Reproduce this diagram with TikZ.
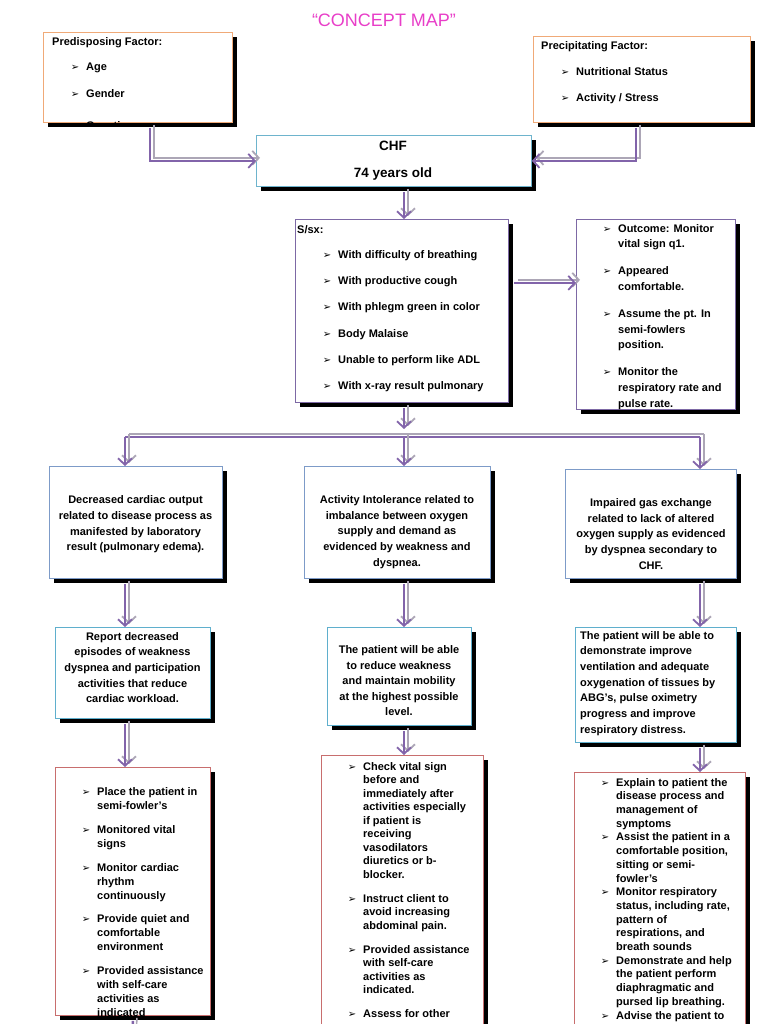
\documentclass[tikz,border=0pt]{standalone}
\usepackage{fontspec}
\setmainfont{Liberation Sans}
\newfontfamily\symfont{DejaVu Sans}
\usetikzlibrary{arrows.meta,shadows}

\definecolor{titlepink}{RGB}{232,62,200}
\definecolor{factorline}{RGB}{240,170,120}
\definecolor{chfline}{RGB}{110,180,205}
\definecolor{signline}{RGB}{125,105,165}
\definecolor{dxline}{RGB}{125,155,200}
\definecolor{goalline}{RGB}{95,175,205}
\definecolor{actline}{RGB}{200,110,110}
\definecolor{flowcol}{RGB}{130,100,170}
\definecolor{flowshadow}{RGB}{172,166,182}

\tikzstyle{box} = [draw, fill=white, anchor=north west, inner sep=0pt, line width=0.8pt,
  drop shadow={shadow xshift=4.5pt, shadow yshift=-4.5pt, fill=black, opacity=1}]
\tikzstyle{txt} = [inner sep=0pt, anchor=north west, align=left]
\tikzstyle{ctxt} = [inner sep=0pt, align=center]
\tikzstyle{flow} = [draw=flowcol, line width=2.5pt, -{Straight Barb[length=6.5pt, width=14pt, line width=1.8pt]}]
\tikzstyle{flowbar} = [draw=flowcol, line width=2.5pt]

\newcommand{\bodyfont}[1]{\bfseries\fontsize{11}{#1}\selectfont}
\newcommand{\bul}{\llap{{\symfont\fontsize{10}{10}\selectfont ➢}\hspace{7pt}}}
\newcommand{\flowto}[2][flow]{%
  \draw[#1, draw=flowshadow, line width=1.6pt, transform canvas={shift={(4pt,3pt)}}] #2;
  \draw[#1] #2;}

\begin{document}
\begin{tikzpicture}[x=1pt, y=-1pt]
        \useasboundingbox (0,0) rectangle (768,1024);

        % Title
        \node[font=\fontsize{18}{18}\selectfont, text=titlepink, inner sep=0pt] (title) at (384,20) {“CONCEPT MAP”};

        % Factors
        \node[box, draw=factorline, minimum width=189pt, minimum height=90pt] (pred) at (43,32) {};
        \node[txt, font=\bodyfont{26}] (predHead) at (52,37) {Predisposing Factor:};
        \begin{scope}
          \clip (pred.north west) rectangle (pred.south east);
          \node[txt, font=\bodyfont{26.5}] (predList) at (86,63) {\bul Age\\ \bul Gender\\[5.5pt] \bul Genetics};
        \end{scope}

        \node[box, draw=factorline, minimum width=217pt, minimum height=86pt] (prec) at (533,36) {};
        \node[txt, font=\bodyfont{26}] (precHead) at (541,41) {Precipitating Factor:};
        \node[txt, font=\bodyfont{26}] (precList) at (576,67) {\bul Nutritional Status\\ \bul Activity / Stress};

        \node[box, draw=chfline, minimum width=275pt, minimum height=51pt] (chf) at (256,135) {};
        \node[ctxt, font=\bfseries\fontsize{13.5}{27}\selectfont] (chfText) at (393,161) {CHF\\ 74 years old};

        % Signs and outcome
        \node[box, draw=signline, minimum width=213pt, minimum height=183pt] (sx) at (295,219) {};
        \node[txt, font=\bodyfont{26}] (sxHead) at (297,225) {S/sx:};
        \node[txt, font=\bodyfont{26.3}] (sxList) at (338,250)
          {\bul With difficulty of breathing\\ \bul With productive cough\\ \bul With phlegm green in color\\
           \bul Body Malaise\\ \bul Unable to perform like ADL\\ \bul With x-ray result pulmonary};

        \node[box, draw=signline, minimum width=159pt, minimum height=190pt] (outc) at (576,219) {};
        \begin{scope}
          \clip (outc.north west) rectangle (outc.south east);
          \node[txt, font=\bodyfont{15.6}] (outcList) at (618,224)
            {\bul Outcome: Monitor\\ vital sign q1.\\[11.5pt] \bul Appeared\\ comfortable.\\[11.5pt]
             \bul Assume the pt. In\\ semi-fowlers\\ position.\\[11.5pt] \bul Monitor the\\ respiratory rate and\\ pulse rate.};
        \end{scope}

        % Nursing diagnoses
        \node[box, draw=dxline, minimum width=173pt, minimum height=112pt] (dxA) at (49,466) {};
        \node[ctxt, font=\bodyfont{15.7}] (dxAText) at (135.5,524.5)
          {Decreased cardiac output\\ related to disease process as\\ manifested by laboratory\\ result (pulmonary edema).};
        \node[box, draw=dxline, minimum width=186pt, minimum height=112pt] (dxB) at (304,466) {};
        \node[ctxt, font=\bodyfont{15.6}] (dxBText) at (397,532)
          {Activity Intolerance related to\\ imbalance between oxygen\\ supply and demand as\\ evidenced by weakness and\\ dyspnea.};
        \node[box, draw=dxline, minimum width=171pt, minimum height=109pt] (dxC) at (565,469) {};
        \node[ctxt, font=\bodyfont{15.7}] (dxCText) at (651,534)
          {Impaired gas exchange\\ related to lack of altered\\ oxygen supply as evidenced\\ by dyspnea secondary to\\ CHF.};

        % Goals
        \node[box, draw=goalline, minimum width=155pt, minimum height=91pt] (goalA) at (55,627) {};
        \node[ctxt, font=\bodyfont{15.7}] (goalAText) at (132.5,667.5)
          {Report decreased\\ episodes of weakness\\ dyspnea and participation\\ activities that reduce\\ cardiac workload.};
        \node[box, draw=goalline, minimum width=144pt, minimum height=98pt] (goalB) at (327,627) {};
        \node[ctxt, font=\bodyfont{15.5}] (goalBText) at (399,681)
          {The patient will be able\\ to reduce weakness\\ and maintain mobility\\ at the highest possible\\ level.};
        \node[box, draw=goalline, minimum width=161pt, minimum height=115pt] (goalC) at (575,627) {};
        \node[txt, font=\bodyfont{15.7}] (goalCText) at (580,631)
          {The patient will be able to\\ demonstrate improve\\ ventilation and adequate\\ oxygenation of tissues by\\
           ABG's, pulse oximetry\\ progress and improve\\ respiratory distress.};

        % Interventions
        \node[box, draw=actline, minimum width=155pt, minimum height=248pt] (actA) at (55,767) {};
        \begin{scope}
          \clip (actA.north west) rectangle (actA.south east);
          \node[txt, font=\bodyfont{14}] (actAList) at (97,787)
            {\bul Place the patient in\\ semi-fowler's\\[10pt] \bul Monitored vital\\ signs\\[10pt]
             \bul Monitor cardiac\\ rhythm\\ continuously\\[9pt] \bul Provide quiet and\\ comfortable\\ environment\\[10pt]
             \bul Provided assistance\\ with self-care\\ activities as\\ indicated};
        \end{scope}
        \node[box, draw=actline, minimum width=162pt, minimum height=285pt] (actB) at (321,755) {};
        \node[txt, font=\bodyfont{13.5}] (actBList) at (363,762)
          {\bul Check vital sign\\ before and\\ immediately after\\ activities especially\\ if patient is\\ receiving\\
           vasodilators\\ diuretics or b-\\ blocker.\\[10.5pt] \bul Instruct client to\\ avoid increasing\\ abdominal pain.\\[10.5pt]
           \bul Provided assistance\\ with self-care\\ activities as\\ indicated.\\[10.5pt] \bul Assess for other};
        \node[box, draw=actline, minimum width=171pt, minimum height=268pt] (actC) at (574,772) {};
        \node[txt, font=\bodyfont{13.7}] (actCList) at (616,778)
          {\bul Explain to patient the\\ disease process and\\ management of\\ symptoms\\
           \bul Assist the patient in a\\ comfortable position,\\ sitting or semi-\\ fowler's\\
           \bul Monitor respiratory\\ status, including rate,\\ pattern of\\ respirations, and\\ breath sounds\\
           \bul Demonstrate and help\\ the patient perform\\ diaphragmatic and\\ pursed lip breathing.\\
           \bul Advise the patient to};

        % Connectors
        \coordinate (colA) at (125,437);
        \coordinate (colB) at (404,437);
        \coordinate (colC) at (700,437);
        \coordinate (barTip) at (404,429);
        \coordinate (sxOut) at ([yshift=28pt]sx.east);
        \coordinate (offpage) at (132,1040);

        \flowto{([xshift=12pt]pred.south) ++(0,5) |- (chf.west)}
        \flowto{([xshift=-6pt]prec.south) ++(0,5) |- (chf.east)}
        \flowto{(chf.south -| colB) ++(0,5) -- (colB |- sx.north)}
        \flowto{(sxOut) ++(5,0) -- (sxOut -| outc.west)}
        \flowto{(sx.south -| colB) ++(0,5) -- (barTip)}
        \flowto[flowbar]{(colA) -- (colC)}
        \flowto{(colA) -- (colA |- dxA.north)}
        \flowto{(colB) -- (colB |- dxB.north)}
        \flowto{(colC) -- (colC |- dxC.north)}
        \flowto{(colA |- dxA.south) ++(0,5) -- (colA |- goalA.north)}
        \flowto{(colB |- dxB.south) ++(0,5) -- (colB |- goalB.north)}
        \flowto{(colC |- dxC.south) ++(0,5) -- (colC |- goalC.north)}
        \flowto{(colA |- goalA.south) ++(0,5) -- (colA |- actA.north)}
        \flowto{(colB |- goalB.south) ++(0,5) -- (colB |- actB.north)}
        \flowto{(colC |- goalC.south) ++(0,5) -- (colC |- actC.north)}
        \flowto[flowbar]{(actA.south) ++(0,5) -- (offpage)}
      \end{tikzpicture}
\end{document}
